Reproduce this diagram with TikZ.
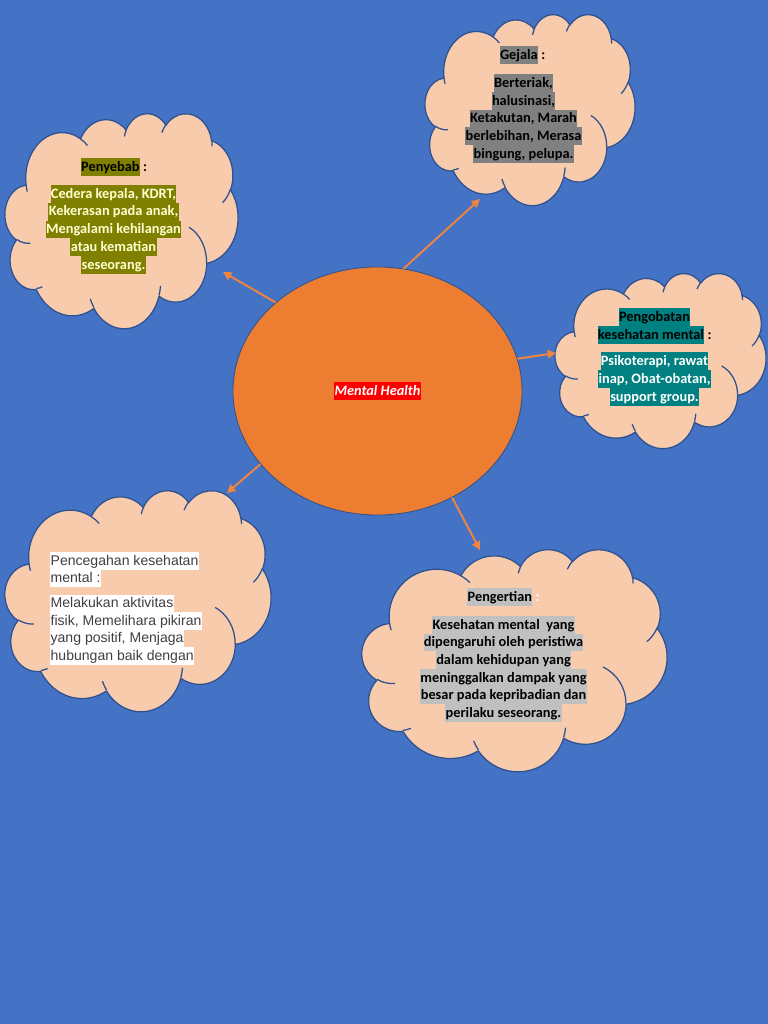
\documentclass[tikz,border=0pt]{standalone}
\usepackage{fontspec}
\setmainfont{Carlito}
\newfontfamily\arialf{Liberation Sans}
\usetikzlibrary{arrows.meta,shapes.geometric}
\definecolor{bg}{HTML}{4472C4}
\definecolor{orng}{HTML}{ED7D31}
\definecolor{arrowc}{HTML}{EE8442}
\definecolor{cloudfill}{HTML}{F8CBAD}
\definecolor{edge}{HTML}{2F528F}
\definecolor{olivehl}{HTML}{808000}
\definecolor{cream}{HTML}{FFFFD0}
\definecolor{grayhl}{HTML}{808080}
\definecolor{tealhl}{HTML}{008080}
\definecolor{silverhl}{HTML}{C0C0C0}
\definecolor{txtgray}{HTML}{404040}
\definecolor{hlred}{HTML}{FF0000}

\newcommand\hlb[2]{{\setlength\fboxsep{0.25pt}\colorbox{#1}{\rule[-3pt]{0pt}{12.1pt}#2}}}
\newcommand\hla[2]{{\setlength\fboxsep{0.25pt}\colorbox{#1}{\rule[-2.7pt]{0pt}{11.6pt}#2}}}

\newcommand\pptcloud[4]{%
\begin{scope}[shift={(#1,#2)},xscale=#3/43.2,yscale=#4/43.2]
\draw[cloudline,fill=cloudfill] (3.900,14.370)
 arc[ca={6.753}{9.190}{-190.48748}{123.78053}]
 arc[ca={5.333}{7.267}{-144.10238}{89.94523}]
 arc[ca={4.365}{5.945}{-145.80792}{99.72302}]
 arc[ca={4.857}{6.595}{-130.98607}{117.24173}]
 arc[ca={5.333}{7.273}{-78.70888}{109.02692}]
 arc[ca={6.775}{9.220}{-46.26725}{130.26900}]
 arc[ca={5.785}{7.867}{0.62502}{114.03333}]
 arc[ca={6.752}{9.215}{22.45160}{115.17255}]
 arc[ca={7.720}{10.543}{66.24263}{75.71102}]
 arc[ca={4.360}{5.918}{-274.94208}{146.73557}]
 arc[ca={4.345}{5.945}{-246.82850}{152.51885}]
 -- cycle;
\draw[cloudline] (4.693,26.177) arc[ca={4.345}{5.945}{86.74200}{26.42950}]
 (6.928,34.899) arc[ca={4.360}{5.918}{73.61047}{11.44747}]
 (16.478,39.090) arc[ca={6.752}{9.215}{137.62415}{14.08110}]
 (28.827,34.751) arc[ca={6.752}{9.215}{6.45327}{15.99835}]
 (34.129,22.954) arc[ca={5.785}{7.867}{-70.29235}{70.91737}]
 (41.798,15.354) arc[ca={5.333}{7.273}{30.31803}{27.75150}]
 (38.324,5.426) arc[ca={4.857}{6.595}{-13.74433}{14.85890}]
 (29.078,3.952) arc[ca={4.857}{6.595}{-149.18145}{18.19537}]
 (22.141,4.720) arc[ca={4.365}{5.945}{-163.49427}{17.68635}]
 (14.000,5.192) arc[ca={6.753}{9.190}{-66.70695}{12.31935}]
 (4.127,15.789) arc[ca={6.753}{9.190}{157.65435}{11.85817}];
\end{scope}}

\begin{document}
\begin{tikzpicture}[x=0.025cm,y=-0.025cm,
  declare function={oxa(\w,\h,\t)=(\t)+mod(atan2((\w)*sin(\t),(\h)*cos(\t))-(\t)+540,360)-180;},
  ca/.style n args={4}{x radius=#1,y radius=#2,start angle={oxa(#1,#2,#3)},end angle={oxa(#1,#2,#3+#4)}},
  cloudline/.style={draw=edge,line width=0.9pt,line join=round},
  tl/.style={inner sep=0pt,font=\fontsize{10.2}{12}\selectfont\bfseries},
  al/.style={inner sep=0pt,anchor=west,font=\fontsize{10}{12}\selectfont\arialf,text=txtgray},
  arr/.style={draw=arrowc,line width=1.4pt,-{Triangle[length=6pt,width=6pt]}}]
\useasboundingbox (0,0) rectangle (768,1024);
\fill[bg] (0,0) rectangle (768,1024);

% clouds
\pptcloud{5}{113}{233}{215}
\pptcloud{425}{14}{210}{191}
\pptcloud{555}{273}{211}{175}
\pptcloud{5}{490}{266}{221}
\pptcloud{362}{549}{305}{222}

% centre
\node[ellipse,draw=edge,line width=0.6pt,fill=orng,inner sep=0pt,
  minimum width=7.225cm,minimum height=6.2cm] (mh) at (377.5,391)
  {\fontsize{10.2}{12}\selectfont\bfseries\itshape\hlb{hlred}{\color{white}Mental Health}};

% Penyebab
\node[tl] (py0) at (114,167) {\hlb{olivehl}{Penyebab} :};
\node[tl,text=cream] (py1) at (113.5,194) {\hlb{olivehl}{Cedera kepala, KDRT,}};
\node[tl,text=cream] (py2) at (113.5,211.7) {\hlb{olivehl}{Kekerasan pada anak,}};
\node[tl,text=cream] (py3) at (113.5,229.4) {\hlb{olivehl}{Mengalami kehilangan}};
\node[tl,text=cream] (py4) at (113.5,247.1) {\hlb{olivehl}{atau kematian}};
\node[tl,text=cream] (py5) at (113.5,264.8) {\hlb{olivehl}{seseorang.}};

% Gejala
\node[tl] (gj0) at (522.5,55) {\hlb{grayhl}{Gejala} :};
\node[tl] (gj1) at (523.5,83) {\hlb{grayhl}{Berteriak,}};
\node[tl] (gj2) at (523.5,100.75) {\hlb{grayhl}{halusinasi,}};
\node[tl] (gj3) at (523.5,118.5) {\hlb{grayhl}{Ketakutan, Marah}};
\node[tl] (gj4) at (523.5,136.25) {\hlb{grayhl}{berlebihan, Merasa}};
\node[tl] (gj5) at (523.5,154) {\hlb{grayhl}{bingung, pelupa.}};

% Pengobatan
\node[tl] (po0) at (654.5,317) {\hlb{tealhl}{Pengobatan}};
\node[tl] (po1) at (654.5,335) {\hlb{tealhl}{kesehatan mental} :};
\node[tl,text=white] (po2) at (654.5,361) {\hlb{tealhl}{Psikoterapi, rawat}};
\node[tl,text=white] (po3) at (654.5,379) {\hlb{tealhl}{inap, Obat-obatan,}};
\node[tl,text=white] (po4) at (654.5,397) {\hlb{tealhl}{support group.}};

% Pencegahan
\node[al] (pc0) at (50,561) {\hla{white}{Pencegahan kesehatan}};
\node[al] (pc1) at (50,578.5) {\hla{white}{mental :}};
\node[al] (pc2) at (50,603.5) {\hla{white}{Melakukan aktivitas}};
\node[al] (pc3) at (50,621) {\hla{white}{fisik, Memelihara pikiran}};
\node[al] (pc4) at (50,638.5) {\hla{white}{yang positif, Menjaga}};
\node[al] (pc5) at (50,656) {\hla{white}{hubungan baik dengan}};

% Pengertian
\node[tl] (pg0) at (503.5,597) {\hlb{silverhl}{Pengertian} \textcolor{white}{:}};
\node[tl] (pg1) at (503.5,625) {\hlb{silverhl}{Kesehatan mental~ yang}};
\node[tl] (pg2) at (503.5,642.6) {\hlb{silverhl}{dipengaruhi oleh peristiwa}};
\node[tl] (pg3) at (503.5,660.2) {\hlb{silverhl}{dalam kehidupan yang}};
\node[tl] (pg4) at (503.5,677.8) {\hlb{silverhl}{meninggalkan dampak yang}};
\node[tl] (pg5) at (503.5,695.4) {\hlb{silverhl}{besar pada kepribadian dan}};
\node[tl] (pg6) at (503.5,713) {\hlb{silverhl}{perilaku seseorang.}};

% arrow ends
\coordinate (t1) at (223,272);
\coordinate (t2) at (480,199);
\coordinate (t3) at (556,353);
\coordinate (t4) at (227,493);
\coordinate (t5) at (480,550);
\draw[arr] (mh.139.4) -- (t1);
\draw[arr] (mh.78.1) -- (t2);
\draw[arr] (mh.13.3) -- (t3);
\draw[arr] (mh.212.9) -- (t4);
\draw[arr] (mh.305.1) -- (t5);
\end{tikzpicture}
\end{document}
